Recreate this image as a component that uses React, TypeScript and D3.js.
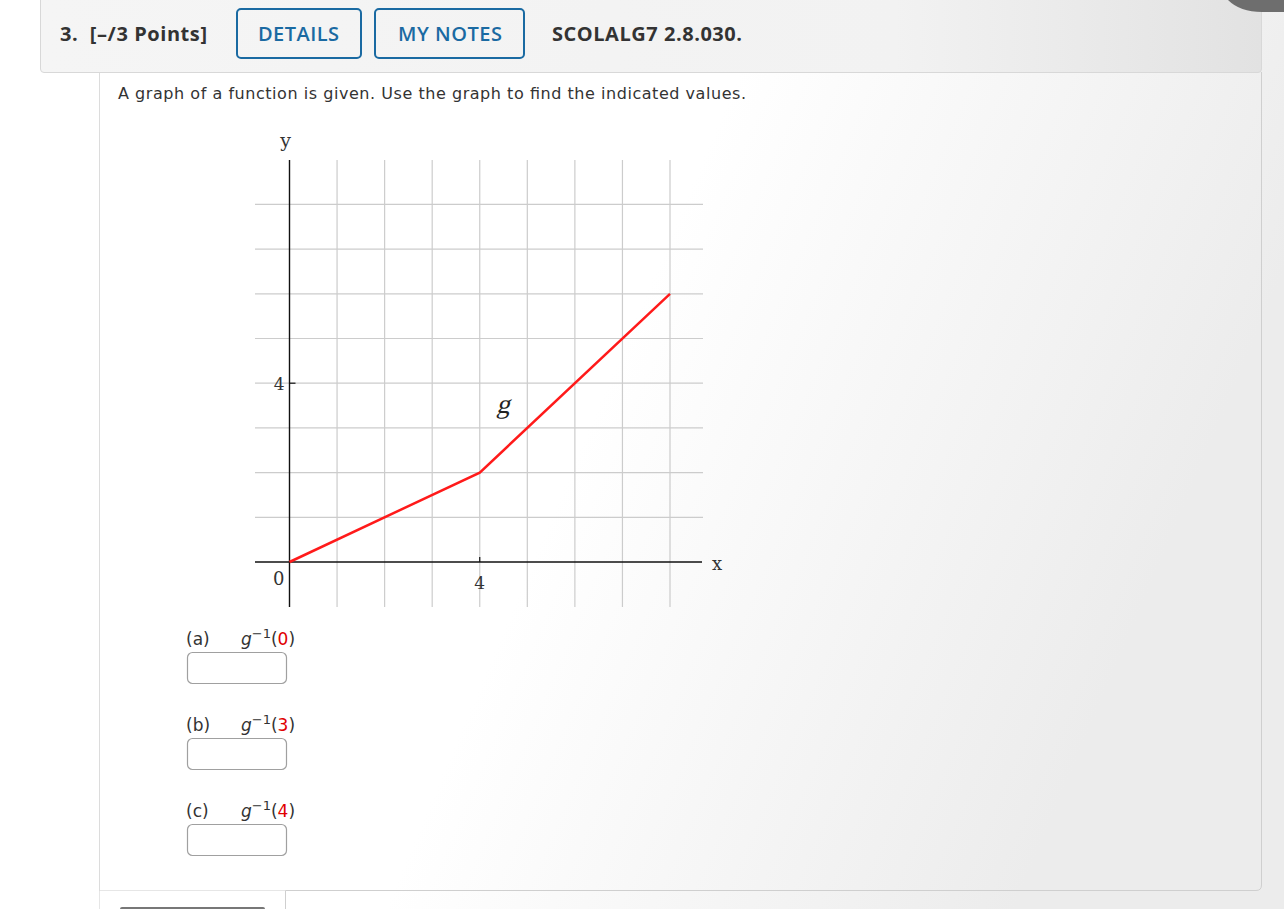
import React from "react";
import * as d3 from "d3";

const gPoints: [number, number][] = [
  [0, 0],
  [4, 2],
  [8, 6],
];
const xTicks = [4];
const yTicks = [4];
const xGrid = [1, 2, 3, 4, 5, 6, 7, 8];
const yGrid = [1, 2, 3, 4, 5, 6, 7, 8];
const partLabels = ["(a)", "(b)", "(c)"];
const partArgs = ["0", "3", "4"];

const W = 1284;
const H = 909;

export default function App() {
  const x = d3.scaleLinear().domain([0, 8]).range([289.5, 670]);
  const y = d3.scaleLinear().domain([0, 8]).range([562, 204.4]);
  const line = d3
    .line<[number, number]>()
    .x((d) => x(d[0]))
    .y((d) => y(d[1]));
  const xMin = x.invert(255);
  const xMax = x.invert(703);
  const yTop = y.invert(160);
  const yBot = y.invert(607);
  const sans = "'Open Sans', sans-serif";
  const verd = "'DejaVu Sans', Verdana, sans-serif";
  const serif = "'DejaVu Serif', serif";
  const blue = "#1a6aa2";

  return (
    <svg
      width={W}
      height={H}
      style={{ position: "absolute", left: 0, top: 0, display: "block" }}
    >
      <defs>
        <linearGradient id="bg" x1="0" y1="0" x2="1" y2="0.3">
          <stop offset="0.55" stopColor="#ffffff" />
          <stop offset="1" stopColor="#ececec" />
        </linearGradient>
        <linearGradient id="hd" x1="0" y1="0" x2="1" y2="0">
          <stop offset="0" stopColor="#f5f5f5" />
          <stop offset="0.7" stopColor="#f2f2f2" />
          <stop offset="1" stopColor="#e2e2e2" />
        </linearGradient>
      </defs>
      <rect x={0} y={0} width={W} height={H} fill="url(#bg)" />
      {/* content panel */}
      <path
        d="M99.5,72 L99.5,909 M99.5,890.5 L285.5,890.5"
        stroke="#e6e6e6"
        fill="none"
      />
      <path
        d="M285.5,890.5 L1256,890.5 Q1261.5,890.5 1261.5,885 L1261.5,72"
        stroke="#cfcfcf"
        fill="none"
      />
      <line x1={285.5} y1={890.5} x2={285.5} y2={909} stroke="#cfcfcf" />
      <line x1={99.5} y1={72} x2={99.5} y2={891} stroke="#dcdcdc" />
      <rect x={120} y={907} width={145} height={4} rx={2} fill="#777" />
      {/* header */}
      <path
        d="M40.5,0 L40.5,69 Q40.5,72.5 44,72.5 L1258,72.5 Q1261.5,72.5 1261.5,69 L1261.5,0"
        fill="url(#hd)"
        stroke="#d8d8d8"
      />
      <path d="M1228,0 Q1240,12 1262,12 L1284,12 L1284,0 Z" fill="#6e6e6e" />
      <text x={60} y={41} fontFamily={sans} fontWeight={700} fontSize={20} fill="#333" textLength={147} xmlSpace="preserve">
        3.  [–/3 Points]
      </text>
      <rect x={237} y={9} width={124} height={49} rx={4} fill="none" stroke={blue} strokeWidth={2} />
      <text x={258} y={41} fontFamily={sans} fontWeight={600} fontSize={20} fill={blue} textLength={81}>
        DETAILS
      </text>
      <rect x={375} y={9} width={149} height={49} rx={4} fill="none" stroke={blue} strokeWidth={2} />
      <text x={398} y={41} fontFamily={sans} fontWeight={600} fontSize={20} fill={blue} textLength={104}>
        MY NOTES
      </text>
      <text x={552} y={41} fontFamily={sans} fontWeight={700} fontSize={20} fill="#333" textLength={190}>
        SCOLALG7 2.8.030.
      </text>
      <text x={118} y={99} fontFamily={verd} fontSize={16} fill="#333" textLength={628}>
        A graph of a function is given. Use the graph to find the indicated values.
      </text>

      {/* graph */}
      <g>
        {xGrid.map((v) => (
          <line
            key={"vx" + v}
            x1={x(v)}
            x2={x(v)}
            y1={y(yTop)}
            y2={y(yBot)}
            stroke="#cccccc"
            strokeWidth={1.2}
          />
        ))}
        {yGrid.map((v) => (
          <line
            key={"hy" + v}
            x1={x(xMin)}
            x2={x(xMax)}
            y1={y(v)}
            y2={y(v)}
            stroke="#cccccc"
            strokeWidth={1.2}
          />
        ))}
        <line x1={x(xMin)} x2={x(xMax) - 1} y1={y(0)} y2={y(0)} stroke="#111" strokeWidth={1.4} />
        <line x1={x(0)} x2={x(0)} y1={y(yTop)} y2={y(yBot)} stroke="#111" strokeWidth={1.4} />
        {xTicks.map((v) => (
          <g key={"xt" + v}>
            <line x1={x(v)} x2={x(v)} y1={y(0) - 5} y2={y(0)} stroke="#111" strokeWidth={1.2} />
            <text x={x(v)} y={y(0) + 27} textAnchor="middle" fontFamily={serif} fontSize={17} fill="#333">
              {v}
            </text>
          </g>
        ))}
        {yTicks.map((v) => (
          <g key={"yt" + v}>
            <line x1={x(0)} x2={x(0) + 6} y1={y(v)} y2={y(v)} stroke="#111" strokeWidth={1.2} />
            <text x={x(0) - 5} y={y(v) + 7} textAnchor="end" fontFamily={serif} fontSize={17} fill="#333">
              {v}
            </text>
          </g>
        ))}
        <text x={x(0) - 5} y={y(0) + 23} textAnchor="end" fontFamily={serif} fontSize={18} fill="#333">
          0
        </text>
        <text x={x(xMax) + 14} y={y(0) + 8} textAnchor="middle" fontFamily={serif} fontSize={18} fill="#333">
          x
        </text>
        <text x={x(0) - 4} y={147} textAnchor="middle" fontFamily={serif} fontSize={19} fill="#333">
          y
        </text>
        <path d={line(gPoints) || ""} fill="none" stroke="#ff1a1a" strokeWidth={2.5} />
        <g transform="translate(503,413) skewX(-14)">
          <text x={0} y={0} textAnchor="middle" fontFamily="'Liberation Serif', serif" fontSize={27} fill="#222">
            g
          </text>
        </g>
      </g>

      {/* parts */}
      {partLabels.map((lab, i) => {
        const top = 626 + i * 86;
        return (
          <g key={lab}>
            <text x={186} y={top + 19} fontFamily={verd} fontSize={17} fill="#333">
              {lab}
            </text>
            <text x={241} y={top + 19} fontFamily={verd} fontSize={17} fill="#333">
              <tspan fontStyle="italic">g</tspan>
              <tspan fontSize={13} dy={-7}>−1</tspan>
              <tspan dy={7}>(</tspan>
              <tspan fill="#e00000">{partArgs[i]}</tspan>
              <tspan>)</tspan>
            </text>
            <rect x={187.5} y={top + 26.5} width={99} height={31} rx={5} fill="#fff" stroke="#a0a0a0" strokeWidth={1.2} />
          </g>
        );
      })}
    </svg>
  );
}
